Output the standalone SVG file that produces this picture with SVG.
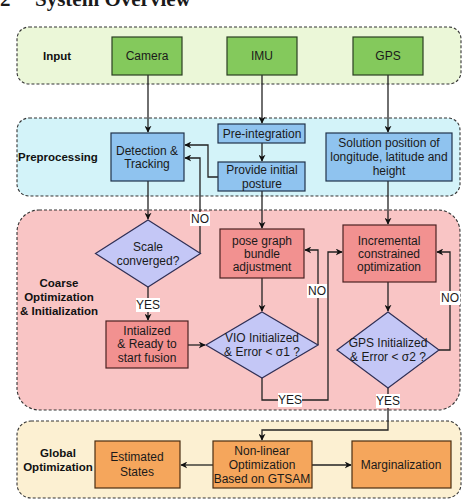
<svg xmlns="http://www.w3.org/2000/svg" width="474" height="504" viewBox="0 0 474 504">
<style>
text{font-family:"Liberation Sans",Arial,sans-serif;font-size:12px;fill:#1a1a1a;text-anchor:middle}
.lbl{font-weight:bold;font-size:11.5px;fill:#111}
.grp{stroke:#333;stroke-width:1.1;stroke-dasharray:3,2}
.g{fill:#84c95c;stroke:#2b3f22;stroke-width:1.2}
.b{fill:#8fc3ef;stroke:#20324a;stroke-width:1.2}
.r{fill:#f29190;stroke:#4a2222;stroke-width:1.2}
.d{fill:#c4c7f6;stroke:#2f2f55;stroke-width:1.2}
.o{fill:#f5a65c;stroke:#4a2e12;stroke-width:1.2}
.c{fill:none;stroke:#222;stroke-width:1.3}
.bg{fill:#fff}
</style>
<defs>
<marker id="ah" viewBox="0 0 10 10" refX="9" refY="5" markerWidth="7" markerHeight="7" markerUnits="userSpaceOnUse" orient="auto">
<path d="M0,0 L10,5 L0,10 L3,5 z" fill="#111"/>
</marker>
</defs>
<rect width="474" height="504" fill="#fff"/>
<text x="0" y="6" style="font-family:'Liberation Serif',serif;font-size:21px;font-weight:bold;text-anchor:start">2</text>
<text x="35" y="6" style="font-family:'Liberation Serif',serif;font-size:21px;font-weight:bold;text-anchor:start">System Overview</text>

<g id="group-input">
<rect class="grp" x="17" y="27" width="444" height="57" rx="12" fill="#ebf7d8"/>
<text class="lbl" x="57" y="60">Input</text>
</g>
<g id="group-preprocessing">
<rect class="grp" x="17" y="118" width="443" height="78" rx="12" fill="#d3f3f9"/>
<text class="lbl" x="18" y="161" style="text-anchor:start">Preprocessing</text>
</g>
<g id="group-coarse">
<rect class="grp" x="17" y="210" width="443" height="200" rx="22" fill="#f9c5c5"/>
<text class="lbl" x="59" y="287">Coarse</text>
<text class="lbl" x="59" y="301">Optimization</text>
<text class="lbl" x="59" y="315">&amp; Initialization</text>
</g>
<g id="group-global">
<rect class="grp" x="17" y="421" width="444" height="77" rx="14" fill="#fcf0d2"/>
<text class="lbl" x="58" y="457">Global</text>
<text class="lbl" x="58" y="471">Optimization</text>
</g>

<g id="connectors">
<path class="c" d="M148,75 V132" marker-end="url(#ah)"/>
<path class="c" d="M262,75 V123" marker-end="url(#ah)"/>
<path class="c" d="M388,75 V132" marker-end="url(#ah)"/>
<path class="c" d="M262,143 V161" marker-end="url(#ah)"/>
<path class="c" d="M218,177 H208 V145 H185" marker-end="url(#ah)"/>
<path class="c" d="M148,181 V219" marker-end="url(#ah)"/>
<path class="c" d="M200,253.5 V158 H185" marker-end="url(#ah)"/>
<path class="c" d="M148,287 V320" marker-end="url(#ah)"/>
<path class="c" d="M188,345 H205" marker-end="url(#ah)"/>
<path class="c" d="M262,191 V228" marker-end="url(#ah)"/>
<path class="c" d="M262,278 V311" marker-end="url(#ah)"/>
<path class="c" d="M318,345 V250 H305" marker-end="url(#ah)"/>
<path class="c" d="M262,378 V400 H328 V252 H342" marker-end="url(#ah)"/>
<path class="c" d="M388,181 V224" marker-end="url(#ah)"/>
<path class="c" d="M388,282 V311" marker-end="url(#ah)"/>
<path class="c" d="M439,350 H450 V252 H437" marker-end="url(#ah)"/>
<path class="c" d="M388,388 V430 H262 V440" marker-end="url(#ah)"/>
<path class="c" d="M213,465 H181" marker-end="url(#ah)"/>
<path class="c" d="M312,465 H351" marker-end="url(#ah)"/>
<rect class="bg" x="190" y="212" width="20" height="14"/><text x="200" y="223">NO</text>
<rect class="bg" x="307" y="284" width="20" height="14"/><text x="317" y="295">NO</text>
<rect class="bg" x="440" y="291" width="20" height="14"/><text x="450" y="302">NO</text>
<rect class="bg" x="136" y="298" width="24" height="14"/><text x="148" y="309">YES</text>
<rect class="bg" x="278" y="393" width="24" height="14"/><text x="290" y="404">YES</text>
<rect class="bg" x="376" y="394" width="24" height="14"/><text x="388" y="405">YES</text>
</g>

<g id="camera"><rect class="g" x="112" y="37" width="70" height="38"/><text x="147" y="60">Camera</text></g>
<g id="imu"><rect class="g" x="227" y="37" width="70" height="38"/><text x="262" y="60">IMU</text></g>
<g id="gps"><rect class="g" x="353" y="37" width="70" height="38"/><text x="388" y="60">GPS</text></g>

<g id="pre-integration"><rect class="b" x="218" y="124" width="87" height="19"/><text x="262" y="138">Pre-integration</text></g>
<g id="initial-posture"><rect class="b" x="218" y="162" width="87" height="29"/><text x="262" y="174">Provide initial</text><text x="262" y="188">posture</text></g>
<g id="detection-tracking"><rect class="b" x="111" y="133" width="73" height="48"/><text x="147" y="155">Detection &amp;</text><text x="147" y="168">Tracking</text></g>
<g id="solution-position"><rect class="b" x="326" y="133" width="126" height="48"/><text x="389" y="147">Solution position of</text><text x="389" y="161">longitude, latitude and</text><text x="389" y="175">height</text></g>

<g id="scale-converged"><polygon class="d" points="148,220 200.5,253.5 148,287 95.5,253.5"/><text x="148" y="251">Scale</text><text x="148" y="265">converged?</text></g>
<g id="initialized"><rect class="r" x="106" y="321" width="82" height="47"/><text x="147" y="335">Intialized</text><text x="147" y="348">&amp; Ready to</text><text x="147" y="362">start fusion</text></g>
<g id="pose-graph"><rect class="r" x="220" y="229" width="84" height="49"/><text x="262" y="245">pose graph</text><text x="262" y="258">bundle</text><text x="262" y="271">adjustment</text></g>
<g id="vio-initialized"><polygon class="d" points="262,312 318,345 262,378 206,345"/><text x="262" y="342">VIO Initialized</text><text x="262" y="356">&amp; Error &lt; σ1 ?</text></g>
<g id="incremental"><rect class="r" x="343" y="225" width="93" height="57"/><text x="389" y="245">Incremental</text><text x="389" y="258">constrained</text><text x="389" y="271">optimization</text></g>
<g id="gps-initialized"><polygon class="d" points="388,312 439,350 388,388 337,350"/><text x="388" y="347">GPS Initialized</text><text x="388" y="361">&amp; Error &lt; σ2 ?</text></g>

<g id="estimated-states"><rect class="o" x="95" y="441" width="85" height="47"/><text x="137" y="461">Estimated</text><text x="137" y="476">States</text></g>
<g id="non-linear"><rect class="o" x="213" y="441" width="99" height="47"/><text x="262" y="455">Non-linear</text><text x="262" y="469">Optimization</text><text x="262" y="483">Based on GTSAM</text></g>
<g id="marginalization"><rect class="o" x="352" y="441" width="99" height="47"/><text x="401" y="469">Marginalization</text></g>
</svg>
